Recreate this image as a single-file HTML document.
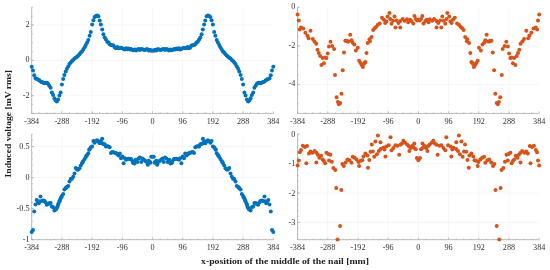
<!DOCTYPE html>
<html><head><meta charset="utf-8"><title>Induced voltage plots</title>
<style>html,body{margin:0;padding:0;background:#fff}body{width:550px;height:270px;overflow:hidden}</style></head>
<body>
<svg width="550" height="270" viewBox="0 0 550 270" style="display:block">
<rect width="550" height="270" fill="#fff"/>
<g font-family="'Liberation Serif', serif" font-size="8.2" fill="#333">
<line x1="61.90" y1="7.3" x2="61.90" y2="113.4" stroke="#f5f5f5" stroke-width="0.9"/>
<line x1="92.10" y1="7.3" x2="92.10" y2="113.4" stroke="#f5f5f5" stroke-width="0.9"/>
<line x1="122.30" y1="7.3" x2="122.30" y2="113.4" stroke="#f5f5f5" stroke-width="0.9"/>
<line x1="152.50" y1="7.3" x2="152.50" y2="113.4" stroke="#f5f5f5" stroke-width="0.9"/>
<line x1="182.70" y1="7.3" x2="182.70" y2="113.4" stroke="#f5f5f5" stroke-width="0.9"/>
<line x1="212.90" y1="7.3" x2="212.90" y2="113.4" stroke="#f5f5f5" stroke-width="0.9"/>
<line x1="243.10" y1="7.3" x2="243.10" y2="113.4" stroke="#f5f5f5" stroke-width="0.9"/>
<line x1="31.7" y1="95.72" x2="273.3" y2="95.72" stroke="#f5f5f5" stroke-width="0.9"/>
<line x1="31.7" y1="60.35" x2="273.3" y2="60.35" stroke="#f5f5f5" stroke-width="0.9"/>
<line x1="31.7" y1="24.98" x2="273.3" y2="24.98" stroke="#f5f5f5" stroke-width="0.9"/>
<path d="M31.7 7.3V113.4H273.3" fill="none" stroke="#a2a2a2" stroke-width="0.75"/>
<line x1="31.70" y1="113.4" x2="31.70" y2="111.2" stroke="#a2a2a2" stroke-width="0.6"/>
<line x1="39.25" y1="113.4" x2="39.25" y2="112.30000000000001" stroke="#a2a2a2" stroke-width="0.6"/>
<line x1="46.80" y1="113.4" x2="46.80" y2="112.30000000000001" stroke="#a2a2a2" stroke-width="0.6"/>
<line x1="54.35" y1="113.4" x2="54.35" y2="112.30000000000001" stroke="#a2a2a2" stroke-width="0.6"/>
<line x1="61.90" y1="113.4" x2="61.90" y2="111.2" stroke="#a2a2a2" stroke-width="0.6"/>
<line x1="69.45" y1="113.4" x2="69.45" y2="112.30000000000001" stroke="#a2a2a2" stroke-width="0.6"/>
<line x1="77.00" y1="113.4" x2="77.00" y2="112.30000000000001" stroke="#a2a2a2" stroke-width="0.6"/>
<line x1="84.55" y1="113.4" x2="84.55" y2="112.30000000000001" stroke="#a2a2a2" stroke-width="0.6"/>
<line x1="92.10" y1="113.4" x2="92.10" y2="111.2" stroke="#a2a2a2" stroke-width="0.6"/>
<line x1="99.65" y1="113.4" x2="99.65" y2="112.30000000000001" stroke="#a2a2a2" stroke-width="0.6"/>
<line x1="107.20" y1="113.4" x2="107.20" y2="112.30000000000001" stroke="#a2a2a2" stroke-width="0.6"/>
<line x1="114.75" y1="113.4" x2="114.75" y2="112.30000000000001" stroke="#a2a2a2" stroke-width="0.6"/>
<line x1="122.30" y1="113.4" x2="122.30" y2="111.2" stroke="#a2a2a2" stroke-width="0.6"/>
<line x1="129.85" y1="113.4" x2="129.85" y2="112.30000000000001" stroke="#a2a2a2" stroke-width="0.6"/>
<line x1="137.40" y1="113.4" x2="137.40" y2="112.30000000000001" stroke="#a2a2a2" stroke-width="0.6"/>
<line x1="144.95" y1="113.4" x2="144.95" y2="112.30000000000001" stroke="#a2a2a2" stroke-width="0.6"/>
<line x1="152.50" y1="113.4" x2="152.50" y2="111.2" stroke="#a2a2a2" stroke-width="0.6"/>
<line x1="160.05" y1="113.4" x2="160.05" y2="112.30000000000001" stroke="#a2a2a2" stroke-width="0.6"/>
<line x1="167.60" y1="113.4" x2="167.60" y2="112.30000000000001" stroke="#a2a2a2" stroke-width="0.6"/>
<line x1="175.15" y1="113.4" x2="175.15" y2="112.30000000000001" stroke="#a2a2a2" stroke-width="0.6"/>
<line x1="182.70" y1="113.4" x2="182.70" y2="111.2" stroke="#a2a2a2" stroke-width="0.6"/>
<line x1="190.25" y1="113.4" x2="190.25" y2="112.30000000000001" stroke="#a2a2a2" stroke-width="0.6"/>
<line x1="197.80" y1="113.4" x2="197.80" y2="112.30000000000001" stroke="#a2a2a2" stroke-width="0.6"/>
<line x1="205.35" y1="113.4" x2="205.35" y2="112.30000000000001" stroke="#a2a2a2" stroke-width="0.6"/>
<line x1="212.90" y1="113.4" x2="212.90" y2="111.2" stroke="#a2a2a2" stroke-width="0.6"/>
<line x1="220.45" y1="113.4" x2="220.45" y2="112.30000000000001" stroke="#a2a2a2" stroke-width="0.6"/>
<line x1="228.00" y1="113.4" x2="228.00" y2="112.30000000000001" stroke="#a2a2a2" stroke-width="0.6"/>
<line x1="235.55" y1="113.4" x2="235.55" y2="112.30000000000001" stroke="#a2a2a2" stroke-width="0.6"/>
<line x1="243.10" y1="113.4" x2="243.10" y2="111.2" stroke="#a2a2a2" stroke-width="0.6"/>
<line x1="250.65" y1="113.4" x2="250.65" y2="112.30000000000001" stroke="#a2a2a2" stroke-width="0.6"/>
<line x1="258.20" y1="113.4" x2="258.20" y2="112.30000000000001" stroke="#a2a2a2" stroke-width="0.6"/>
<line x1="265.75" y1="113.4" x2="265.75" y2="112.30000000000001" stroke="#a2a2a2" stroke-width="0.6"/>
<line x1="273.30" y1="113.4" x2="273.30" y2="111.2" stroke="#a2a2a2" stroke-width="0.6"/>
<line x1="31.7" y1="95.72" x2="33.9" y2="95.72" stroke="#a2a2a2" stroke-width="0.6"/>
<line x1="31.7" y1="60.35" x2="33.9" y2="60.35" stroke="#a2a2a2" stroke-width="0.6"/>
<line x1="31.7" y1="24.98" x2="33.9" y2="24.98" stroke="#a2a2a2" stroke-width="0.6"/>
<line x1="31.7" y1="113.40" x2="32.8" y2="113.40" stroke="#a2a2a2" stroke-width="0.6"/>
<line x1="31.7" y1="104.56" x2="32.8" y2="104.56" stroke="#a2a2a2" stroke-width="0.6"/>
<line x1="31.7" y1="95.72" x2="32.8" y2="95.72" stroke="#a2a2a2" stroke-width="0.6"/>
<line x1="31.7" y1="86.88" x2="32.8" y2="86.88" stroke="#a2a2a2" stroke-width="0.6"/>
<line x1="31.7" y1="78.03" x2="32.8" y2="78.03" stroke="#a2a2a2" stroke-width="0.6"/>
<line x1="31.7" y1="69.19" x2="32.8" y2="69.19" stroke="#a2a2a2" stroke-width="0.6"/>
<line x1="31.7" y1="60.35" x2="32.8" y2="60.35" stroke="#a2a2a2" stroke-width="0.6"/>
<line x1="31.7" y1="51.51" x2="32.8" y2="51.51" stroke="#a2a2a2" stroke-width="0.6"/>
<line x1="31.7" y1="42.67" x2="32.8" y2="42.67" stroke="#a2a2a2" stroke-width="0.6"/>
<line x1="31.7" y1="33.83" x2="32.8" y2="33.83" stroke="#a2a2a2" stroke-width="0.6"/>
<line x1="31.7" y1="24.98" x2="32.8" y2="24.98" stroke="#a2a2a2" stroke-width="0.6"/>
<line x1="31.7" y1="16.14" x2="32.8" y2="16.14" stroke="#a2a2a2" stroke-width="0.6"/>
<line x1="31.7" y1="7.30" x2="32.8" y2="7.30" stroke="#a2a2a2" stroke-width="0.6"/>
<text x="31.70" y="123.60" text-anchor="middle">-384</text>
<text x="61.90" y="123.60" text-anchor="middle">-288</text>
<text x="92.10" y="123.60" text-anchor="middle">-192</text>
<text x="122.30" y="123.60" text-anchor="middle">-96</text>
<text x="152.50" y="123.60" text-anchor="middle">0</text>
<text x="182.70" y="123.60" text-anchor="middle">96</text>
<text x="212.90" y="123.60" text-anchor="middle">192</text>
<text x="243.10" y="123.60" text-anchor="middle">288</text>
<text x="273.30" y="123.60" text-anchor="middle">384</text>
<text x="29.50" y="26.98" text-anchor="end">2</text>
<text x="29.50" y="62.35" text-anchor="end">0</text>
<text x="29.50" y="97.72" text-anchor="end">-2</text>
<line x1="327.80" y1="7.3" x2="327.80" y2="113.4" stroke="#f5f5f5" stroke-width="0.9"/>
<line x1="358.00" y1="7.3" x2="358.00" y2="113.4" stroke="#f5f5f5" stroke-width="0.9"/>
<line x1="388.20" y1="7.3" x2="388.20" y2="113.4" stroke="#f5f5f5" stroke-width="0.9"/>
<line x1="418.40" y1="7.3" x2="418.40" y2="113.4" stroke="#f5f5f5" stroke-width="0.9"/>
<line x1="448.60" y1="7.3" x2="448.60" y2="113.4" stroke="#f5f5f5" stroke-width="0.9"/>
<line x1="478.80" y1="7.3" x2="478.80" y2="113.4" stroke="#f5f5f5" stroke-width="0.9"/>
<line x1="509.00" y1="7.3" x2="509.00" y2="113.4" stroke="#f5f5f5" stroke-width="0.9"/>
<line x1="297.6" y1="84.46" x2="539.2" y2="84.46" stroke="#f5f5f5" stroke-width="0.9"/>
<line x1="297.6" y1="45.88" x2="539.2" y2="45.88" stroke="#f5f5f5" stroke-width="0.9"/>
<path d="M297.6 7.3V113.4H539.2" fill="none" stroke="#a2a2a2" stroke-width="0.75"/>
<line x1="297.60" y1="113.4" x2="297.60" y2="111.2" stroke="#a2a2a2" stroke-width="0.6"/>
<line x1="305.15" y1="113.4" x2="305.15" y2="112.30000000000001" stroke="#a2a2a2" stroke-width="0.6"/>
<line x1="312.70" y1="113.4" x2="312.70" y2="112.30000000000001" stroke="#a2a2a2" stroke-width="0.6"/>
<line x1="320.25" y1="113.4" x2="320.25" y2="112.30000000000001" stroke="#a2a2a2" stroke-width="0.6"/>
<line x1="327.80" y1="113.4" x2="327.80" y2="111.2" stroke="#a2a2a2" stroke-width="0.6"/>
<line x1="335.35" y1="113.4" x2="335.35" y2="112.30000000000001" stroke="#a2a2a2" stroke-width="0.6"/>
<line x1="342.90" y1="113.4" x2="342.90" y2="112.30000000000001" stroke="#a2a2a2" stroke-width="0.6"/>
<line x1="350.45" y1="113.4" x2="350.45" y2="112.30000000000001" stroke="#a2a2a2" stroke-width="0.6"/>
<line x1="358.00" y1="113.4" x2="358.00" y2="111.2" stroke="#a2a2a2" stroke-width="0.6"/>
<line x1="365.55" y1="113.4" x2="365.55" y2="112.30000000000001" stroke="#a2a2a2" stroke-width="0.6"/>
<line x1="373.10" y1="113.4" x2="373.10" y2="112.30000000000001" stroke="#a2a2a2" stroke-width="0.6"/>
<line x1="380.65" y1="113.4" x2="380.65" y2="112.30000000000001" stroke="#a2a2a2" stroke-width="0.6"/>
<line x1="388.20" y1="113.4" x2="388.20" y2="111.2" stroke="#a2a2a2" stroke-width="0.6"/>
<line x1="395.75" y1="113.4" x2="395.75" y2="112.30000000000001" stroke="#a2a2a2" stroke-width="0.6"/>
<line x1="403.30" y1="113.4" x2="403.30" y2="112.30000000000001" stroke="#a2a2a2" stroke-width="0.6"/>
<line x1="410.85" y1="113.4" x2="410.85" y2="112.30000000000001" stroke="#a2a2a2" stroke-width="0.6"/>
<line x1="418.40" y1="113.4" x2="418.40" y2="111.2" stroke="#a2a2a2" stroke-width="0.6"/>
<line x1="425.95" y1="113.4" x2="425.95" y2="112.30000000000001" stroke="#a2a2a2" stroke-width="0.6"/>
<line x1="433.50" y1="113.4" x2="433.50" y2="112.30000000000001" stroke="#a2a2a2" stroke-width="0.6"/>
<line x1="441.05" y1="113.4" x2="441.05" y2="112.30000000000001" stroke="#a2a2a2" stroke-width="0.6"/>
<line x1="448.60" y1="113.4" x2="448.60" y2="111.2" stroke="#a2a2a2" stroke-width="0.6"/>
<line x1="456.15" y1="113.4" x2="456.15" y2="112.30000000000001" stroke="#a2a2a2" stroke-width="0.6"/>
<line x1="463.70" y1="113.4" x2="463.70" y2="112.30000000000001" stroke="#a2a2a2" stroke-width="0.6"/>
<line x1="471.25" y1="113.4" x2="471.25" y2="112.30000000000001" stroke="#a2a2a2" stroke-width="0.6"/>
<line x1="478.80" y1="113.4" x2="478.80" y2="111.2" stroke="#a2a2a2" stroke-width="0.6"/>
<line x1="486.35" y1="113.4" x2="486.35" y2="112.30000000000001" stroke="#a2a2a2" stroke-width="0.6"/>
<line x1="493.90" y1="113.4" x2="493.90" y2="112.30000000000001" stroke="#a2a2a2" stroke-width="0.6"/>
<line x1="501.45" y1="113.4" x2="501.45" y2="112.30000000000001" stroke="#a2a2a2" stroke-width="0.6"/>
<line x1="509.00" y1="113.4" x2="509.00" y2="111.2" stroke="#a2a2a2" stroke-width="0.6"/>
<line x1="516.55" y1="113.4" x2="516.55" y2="112.30000000000001" stroke="#a2a2a2" stroke-width="0.6"/>
<line x1="524.10" y1="113.4" x2="524.10" y2="112.30000000000001" stroke="#a2a2a2" stroke-width="0.6"/>
<line x1="531.65" y1="113.4" x2="531.65" y2="112.30000000000001" stroke="#a2a2a2" stroke-width="0.6"/>
<line x1="539.20" y1="113.4" x2="539.20" y2="111.2" stroke="#a2a2a2" stroke-width="0.6"/>
<line x1="297.6" y1="84.46" x2="299.8" y2="84.46" stroke="#a2a2a2" stroke-width="0.6"/>
<line x1="297.6" y1="45.88" x2="299.8" y2="45.88" stroke="#a2a2a2" stroke-width="0.6"/>
<line x1="297.6" y1="7.30" x2="299.8" y2="7.30" stroke="#a2a2a2" stroke-width="0.6"/>
<line x1="297.6" y1="7.30" x2="298.70000000000005" y2="7.30" stroke="#a2a2a2" stroke-width="0.6"/>
<line x1="297.6" y1="16.95" x2="298.70000000000005" y2="16.95" stroke="#a2a2a2" stroke-width="0.6"/>
<line x1="297.6" y1="26.59" x2="298.70000000000005" y2="26.59" stroke="#a2a2a2" stroke-width="0.6"/>
<line x1="297.6" y1="36.24" x2="298.70000000000005" y2="36.24" stroke="#a2a2a2" stroke-width="0.6"/>
<line x1="297.6" y1="45.88" x2="298.70000000000005" y2="45.88" stroke="#a2a2a2" stroke-width="0.6"/>
<line x1="297.6" y1="55.53" x2="298.70000000000005" y2="55.53" stroke="#a2a2a2" stroke-width="0.6"/>
<line x1="297.6" y1="65.17" x2="298.70000000000005" y2="65.17" stroke="#a2a2a2" stroke-width="0.6"/>
<line x1="297.6" y1="74.82" x2="298.70000000000005" y2="74.82" stroke="#a2a2a2" stroke-width="0.6"/>
<line x1="297.6" y1="84.46" x2="298.70000000000005" y2="84.46" stroke="#a2a2a2" stroke-width="0.6"/>
<line x1="297.6" y1="94.11" x2="298.70000000000005" y2="94.11" stroke="#a2a2a2" stroke-width="0.6"/>
<line x1="297.6" y1="103.75" x2="298.70000000000005" y2="103.75" stroke="#a2a2a2" stroke-width="0.6"/>
<line x1="297.6" y1="113.40" x2="298.70000000000005" y2="113.40" stroke="#a2a2a2" stroke-width="0.6"/>
<text x="297.60" y="123.60" text-anchor="middle">-384</text>
<text x="327.80" y="123.60" text-anchor="middle">-288</text>
<text x="358.00" y="123.60" text-anchor="middle">-192</text>
<text x="388.20" y="123.60" text-anchor="middle">-96</text>
<text x="418.40" y="123.60" text-anchor="middle">0</text>
<text x="448.60" y="123.60" text-anchor="middle">96</text>
<text x="478.80" y="123.60" text-anchor="middle">192</text>
<text x="509.00" y="123.60" text-anchor="middle">288</text>
<text x="539.20" y="123.60" text-anchor="middle">384</text>
<text x="295.40" y="9.30" text-anchor="end">0</text>
<text x="295.40" y="47.88" text-anchor="end">-2</text>
<text x="295.40" y="86.46" text-anchor="end">-4</text>
<line x1="61.90" y1="134.1" x2="61.90" y2="239.7" stroke="#f5f5f5" stroke-width="0.9"/>
<line x1="92.10" y1="134.1" x2="92.10" y2="239.7" stroke="#f5f5f5" stroke-width="0.9"/>
<line x1="122.30" y1="134.1" x2="122.30" y2="239.7" stroke="#f5f5f5" stroke-width="0.9"/>
<line x1="152.50" y1="134.1" x2="152.50" y2="239.7" stroke="#f5f5f5" stroke-width="0.9"/>
<line x1="182.70" y1="134.1" x2="182.70" y2="239.7" stroke="#f5f5f5" stroke-width="0.9"/>
<line x1="212.90" y1="134.1" x2="212.90" y2="239.7" stroke="#f5f5f5" stroke-width="0.9"/>
<line x1="243.10" y1="134.1" x2="243.10" y2="239.7" stroke="#f5f5f5" stroke-width="0.9"/>
<line x1="31.7" y1="208.64" x2="273.3" y2="208.64" stroke="#f5f5f5" stroke-width="0.9"/>
<line x1="31.7" y1="177.58" x2="273.3" y2="177.58" stroke="#f5f5f5" stroke-width="0.9"/>
<line x1="31.7" y1="146.52" x2="273.3" y2="146.52" stroke="#f5f5f5" stroke-width="0.9"/>
<path d="M31.7 134.1V239.7H273.3" fill="none" stroke="#a2a2a2" stroke-width="0.75"/>
<line x1="31.70" y1="239.7" x2="31.70" y2="237.5" stroke="#a2a2a2" stroke-width="0.6"/>
<line x1="39.25" y1="239.7" x2="39.25" y2="238.6" stroke="#a2a2a2" stroke-width="0.6"/>
<line x1="46.80" y1="239.7" x2="46.80" y2="238.6" stroke="#a2a2a2" stroke-width="0.6"/>
<line x1="54.35" y1="239.7" x2="54.35" y2="238.6" stroke="#a2a2a2" stroke-width="0.6"/>
<line x1="61.90" y1="239.7" x2="61.90" y2="237.5" stroke="#a2a2a2" stroke-width="0.6"/>
<line x1="69.45" y1="239.7" x2="69.45" y2="238.6" stroke="#a2a2a2" stroke-width="0.6"/>
<line x1="77.00" y1="239.7" x2="77.00" y2="238.6" stroke="#a2a2a2" stroke-width="0.6"/>
<line x1="84.55" y1="239.7" x2="84.55" y2="238.6" stroke="#a2a2a2" stroke-width="0.6"/>
<line x1="92.10" y1="239.7" x2="92.10" y2="237.5" stroke="#a2a2a2" stroke-width="0.6"/>
<line x1="99.65" y1="239.7" x2="99.65" y2="238.6" stroke="#a2a2a2" stroke-width="0.6"/>
<line x1="107.20" y1="239.7" x2="107.20" y2="238.6" stroke="#a2a2a2" stroke-width="0.6"/>
<line x1="114.75" y1="239.7" x2="114.75" y2="238.6" stroke="#a2a2a2" stroke-width="0.6"/>
<line x1="122.30" y1="239.7" x2="122.30" y2="237.5" stroke="#a2a2a2" stroke-width="0.6"/>
<line x1="129.85" y1="239.7" x2="129.85" y2="238.6" stroke="#a2a2a2" stroke-width="0.6"/>
<line x1="137.40" y1="239.7" x2="137.40" y2="238.6" stroke="#a2a2a2" stroke-width="0.6"/>
<line x1="144.95" y1="239.7" x2="144.95" y2="238.6" stroke="#a2a2a2" stroke-width="0.6"/>
<line x1="152.50" y1="239.7" x2="152.50" y2="237.5" stroke="#a2a2a2" stroke-width="0.6"/>
<line x1="160.05" y1="239.7" x2="160.05" y2="238.6" stroke="#a2a2a2" stroke-width="0.6"/>
<line x1="167.60" y1="239.7" x2="167.60" y2="238.6" stroke="#a2a2a2" stroke-width="0.6"/>
<line x1="175.15" y1="239.7" x2="175.15" y2="238.6" stroke="#a2a2a2" stroke-width="0.6"/>
<line x1="182.70" y1="239.7" x2="182.70" y2="237.5" stroke="#a2a2a2" stroke-width="0.6"/>
<line x1="190.25" y1="239.7" x2="190.25" y2="238.6" stroke="#a2a2a2" stroke-width="0.6"/>
<line x1="197.80" y1="239.7" x2="197.80" y2="238.6" stroke="#a2a2a2" stroke-width="0.6"/>
<line x1="205.35" y1="239.7" x2="205.35" y2="238.6" stroke="#a2a2a2" stroke-width="0.6"/>
<line x1="212.90" y1="239.7" x2="212.90" y2="237.5" stroke="#a2a2a2" stroke-width="0.6"/>
<line x1="220.45" y1="239.7" x2="220.45" y2="238.6" stroke="#a2a2a2" stroke-width="0.6"/>
<line x1="228.00" y1="239.7" x2="228.00" y2="238.6" stroke="#a2a2a2" stroke-width="0.6"/>
<line x1="235.55" y1="239.7" x2="235.55" y2="238.6" stroke="#a2a2a2" stroke-width="0.6"/>
<line x1="243.10" y1="239.7" x2="243.10" y2="237.5" stroke="#a2a2a2" stroke-width="0.6"/>
<line x1="250.65" y1="239.7" x2="250.65" y2="238.6" stroke="#a2a2a2" stroke-width="0.6"/>
<line x1="258.20" y1="239.7" x2="258.20" y2="238.6" stroke="#a2a2a2" stroke-width="0.6"/>
<line x1="265.75" y1="239.7" x2="265.75" y2="238.6" stroke="#a2a2a2" stroke-width="0.6"/>
<line x1="273.30" y1="239.7" x2="273.30" y2="237.5" stroke="#a2a2a2" stroke-width="0.6"/>
<line x1="31.7" y1="239.70" x2="33.9" y2="239.70" stroke="#a2a2a2" stroke-width="0.6"/>
<line x1="31.7" y1="208.64" x2="33.9" y2="208.64" stroke="#a2a2a2" stroke-width="0.6"/>
<line x1="31.7" y1="177.58" x2="33.9" y2="177.58" stroke="#a2a2a2" stroke-width="0.6"/>
<line x1="31.7" y1="146.52" x2="33.9" y2="146.52" stroke="#a2a2a2" stroke-width="0.6"/>
<line x1="31.7" y1="239.70" x2="32.8" y2="239.70" stroke="#a2a2a2" stroke-width="0.6"/>
<line x1="31.7" y1="233.49" x2="32.8" y2="233.49" stroke="#a2a2a2" stroke-width="0.6"/>
<line x1="31.7" y1="227.28" x2="32.8" y2="227.28" stroke="#a2a2a2" stroke-width="0.6"/>
<line x1="31.7" y1="221.06" x2="32.8" y2="221.06" stroke="#a2a2a2" stroke-width="0.6"/>
<line x1="31.7" y1="214.85" x2="32.8" y2="214.85" stroke="#a2a2a2" stroke-width="0.6"/>
<line x1="31.7" y1="208.64" x2="32.8" y2="208.64" stroke="#a2a2a2" stroke-width="0.6"/>
<line x1="31.7" y1="202.43" x2="32.8" y2="202.43" stroke="#a2a2a2" stroke-width="0.6"/>
<line x1="31.7" y1="196.22" x2="32.8" y2="196.22" stroke="#a2a2a2" stroke-width="0.6"/>
<line x1="31.7" y1="190.01" x2="32.8" y2="190.01" stroke="#a2a2a2" stroke-width="0.6"/>
<line x1="31.7" y1="183.79" x2="32.8" y2="183.79" stroke="#a2a2a2" stroke-width="0.6"/>
<line x1="31.7" y1="177.58" x2="32.8" y2="177.58" stroke="#a2a2a2" stroke-width="0.6"/>
<line x1="31.7" y1="171.37" x2="32.8" y2="171.37" stroke="#a2a2a2" stroke-width="0.6"/>
<line x1="31.7" y1="165.16" x2="32.8" y2="165.16" stroke="#a2a2a2" stroke-width="0.6"/>
<line x1="31.7" y1="158.95" x2="32.8" y2="158.95" stroke="#a2a2a2" stroke-width="0.6"/>
<line x1="31.7" y1="152.74" x2="32.8" y2="152.74" stroke="#a2a2a2" stroke-width="0.6"/>
<line x1="31.7" y1="146.52" x2="32.8" y2="146.52" stroke="#a2a2a2" stroke-width="0.6"/>
<line x1="31.7" y1="140.31" x2="32.8" y2="140.31" stroke="#a2a2a2" stroke-width="0.6"/>
<line x1="31.7" y1="134.10" x2="32.8" y2="134.10" stroke="#a2a2a2" stroke-width="0.6"/>
<text x="31.70" y="249.90" text-anchor="middle">-384</text>
<text x="61.90" y="249.90" text-anchor="middle">-288</text>
<text x="92.10" y="249.90" text-anchor="middle">-192</text>
<text x="122.30" y="249.90" text-anchor="middle">-96</text>
<text x="152.50" y="249.90" text-anchor="middle">0</text>
<text x="182.70" y="249.90" text-anchor="middle">96</text>
<text x="212.90" y="249.90" text-anchor="middle">192</text>
<text x="243.10" y="249.90" text-anchor="middle">288</text>
<text x="273.30" y="249.90" text-anchor="middle">384</text>
<text x="29.50" y="149.22" text-anchor="end">0.5</text>
<text x="29.50" y="180.28" text-anchor="end">0</text>
<text x="29.50" y="211.34" text-anchor="end">-0.5</text>
<text x="29.50" y="242.40" text-anchor="end">-1</text>
<line x1="327.80" y1="134.1" x2="327.80" y2="239.7" stroke="#f5f5f5" stroke-width="0.9"/>
<line x1="358.00" y1="134.1" x2="358.00" y2="239.7" stroke="#f5f5f5" stroke-width="0.9"/>
<line x1="388.20" y1="134.1" x2="388.20" y2="239.7" stroke="#f5f5f5" stroke-width="0.9"/>
<line x1="418.40" y1="134.1" x2="418.40" y2="239.7" stroke="#f5f5f5" stroke-width="0.9"/>
<line x1="448.60" y1="134.1" x2="448.60" y2="239.7" stroke="#f5f5f5" stroke-width="0.9"/>
<line x1="478.80" y1="134.1" x2="478.80" y2="239.7" stroke="#f5f5f5" stroke-width="0.9"/>
<line x1="509.00" y1="134.1" x2="509.00" y2="239.7" stroke="#f5f5f5" stroke-width="0.9"/>
<line x1="297.6" y1="222.47" x2="539.2" y2="222.47" stroke="#f5f5f5" stroke-width="0.9"/>
<line x1="297.6" y1="193.01" x2="539.2" y2="193.01" stroke="#f5f5f5" stroke-width="0.9"/>
<line x1="297.6" y1="163.56" x2="539.2" y2="163.56" stroke="#f5f5f5" stroke-width="0.9"/>
<path d="M297.6 134.1V239.7H539.2" fill="none" stroke="#a2a2a2" stroke-width="0.75"/>
<line x1="297.60" y1="239.7" x2="297.60" y2="237.5" stroke="#a2a2a2" stroke-width="0.6"/>
<line x1="305.15" y1="239.7" x2="305.15" y2="238.6" stroke="#a2a2a2" stroke-width="0.6"/>
<line x1="312.70" y1="239.7" x2="312.70" y2="238.6" stroke="#a2a2a2" stroke-width="0.6"/>
<line x1="320.25" y1="239.7" x2="320.25" y2="238.6" stroke="#a2a2a2" stroke-width="0.6"/>
<line x1="327.80" y1="239.7" x2="327.80" y2="237.5" stroke="#a2a2a2" stroke-width="0.6"/>
<line x1="335.35" y1="239.7" x2="335.35" y2="238.6" stroke="#a2a2a2" stroke-width="0.6"/>
<line x1="342.90" y1="239.7" x2="342.90" y2="238.6" stroke="#a2a2a2" stroke-width="0.6"/>
<line x1="350.45" y1="239.7" x2="350.45" y2="238.6" stroke="#a2a2a2" stroke-width="0.6"/>
<line x1="358.00" y1="239.7" x2="358.00" y2="237.5" stroke="#a2a2a2" stroke-width="0.6"/>
<line x1="365.55" y1="239.7" x2="365.55" y2="238.6" stroke="#a2a2a2" stroke-width="0.6"/>
<line x1="373.10" y1="239.7" x2="373.10" y2="238.6" stroke="#a2a2a2" stroke-width="0.6"/>
<line x1="380.65" y1="239.7" x2="380.65" y2="238.6" stroke="#a2a2a2" stroke-width="0.6"/>
<line x1="388.20" y1="239.7" x2="388.20" y2="237.5" stroke="#a2a2a2" stroke-width="0.6"/>
<line x1="395.75" y1="239.7" x2="395.75" y2="238.6" stroke="#a2a2a2" stroke-width="0.6"/>
<line x1="403.30" y1="239.7" x2="403.30" y2="238.6" stroke="#a2a2a2" stroke-width="0.6"/>
<line x1="410.85" y1="239.7" x2="410.85" y2="238.6" stroke="#a2a2a2" stroke-width="0.6"/>
<line x1="418.40" y1="239.7" x2="418.40" y2="237.5" stroke="#a2a2a2" stroke-width="0.6"/>
<line x1="425.95" y1="239.7" x2="425.95" y2="238.6" stroke="#a2a2a2" stroke-width="0.6"/>
<line x1="433.50" y1="239.7" x2="433.50" y2="238.6" stroke="#a2a2a2" stroke-width="0.6"/>
<line x1="441.05" y1="239.7" x2="441.05" y2="238.6" stroke="#a2a2a2" stroke-width="0.6"/>
<line x1="448.60" y1="239.7" x2="448.60" y2="237.5" stroke="#a2a2a2" stroke-width="0.6"/>
<line x1="456.15" y1="239.7" x2="456.15" y2="238.6" stroke="#a2a2a2" stroke-width="0.6"/>
<line x1="463.70" y1="239.7" x2="463.70" y2="238.6" stroke="#a2a2a2" stroke-width="0.6"/>
<line x1="471.25" y1="239.7" x2="471.25" y2="238.6" stroke="#a2a2a2" stroke-width="0.6"/>
<line x1="478.80" y1="239.7" x2="478.80" y2="237.5" stroke="#a2a2a2" stroke-width="0.6"/>
<line x1="486.35" y1="239.7" x2="486.35" y2="238.6" stroke="#a2a2a2" stroke-width="0.6"/>
<line x1="493.90" y1="239.7" x2="493.90" y2="238.6" stroke="#a2a2a2" stroke-width="0.6"/>
<line x1="501.45" y1="239.7" x2="501.45" y2="238.6" stroke="#a2a2a2" stroke-width="0.6"/>
<line x1="509.00" y1="239.7" x2="509.00" y2="237.5" stroke="#a2a2a2" stroke-width="0.6"/>
<line x1="516.55" y1="239.7" x2="516.55" y2="238.6" stroke="#a2a2a2" stroke-width="0.6"/>
<line x1="524.10" y1="239.7" x2="524.10" y2="238.6" stroke="#a2a2a2" stroke-width="0.6"/>
<line x1="531.65" y1="239.7" x2="531.65" y2="238.6" stroke="#a2a2a2" stroke-width="0.6"/>
<line x1="539.20" y1="239.7" x2="539.20" y2="237.5" stroke="#a2a2a2" stroke-width="0.6"/>
<line x1="297.6" y1="222.47" x2="299.8" y2="222.47" stroke="#a2a2a2" stroke-width="0.6"/>
<line x1="297.6" y1="193.01" x2="299.8" y2="193.01" stroke="#a2a2a2" stroke-width="0.6"/>
<line x1="297.6" y1="163.56" x2="299.8" y2="163.56" stroke="#a2a2a2" stroke-width="0.6"/>
<line x1="297.6" y1="134.10" x2="299.8" y2="134.10" stroke="#a2a2a2" stroke-width="0.6"/>
<line x1="297.6" y1="134.10" x2="298.70000000000005" y2="134.10" stroke="#a2a2a2" stroke-width="0.6"/>
<line x1="297.6" y1="139.99" x2="298.70000000000005" y2="139.99" stroke="#a2a2a2" stroke-width="0.6"/>
<line x1="297.6" y1="145.88" x2="298.70000000000005" y2="145.88" stroke="#a2a2a2" stroke-width="0.6"/>
<line x1="297.6" y1="151.77" x2="298.70000000000005" y2="151.77" stroke="#a2a2a2" stroke-width="0.6"/>
<line x1="297.6" y1="157.66" x2="298.70000000000005" y2="157.66" stroke="#a2a2a2" stroke-width="0.6"/>
<line x1="297.6" y1="163.56" x2="298.70000000000005" y2="163.56" stroke="#a2a2a2" stroke-width="0.6"/>
<line x1="297.6" y1="169.45" x2="298.70000000000005" y2="169.45" stroke="#a2a2a2" stroke-width="0.6"/>
<line x1="297.6" y1="175.34" x2="298.70000000000005" y2="175.34" stroke="#a2a2a2" stroke-width="0.6"/>
<line x1="297.6" y1="181.23" x2="298.70000000000005" y2="181.23" stroke="#a2a2a2" stroke-width="0.6"/>
<line x1="297.6" y1="187.12" x2="298.70000000000005" y2="187.12" stroke="#a2a2a2" stroke-width="0.6"/>
<line x1="297.6" y1="193.01" x2="298.70000000000005" y2="193.01" stroke="#a2a2a2" stroke-width="0.6"/>
<line x1="297.6" y1="198.90" x2="298.70000000000005" y2="198.90" stroke="#a2a2a2" stroke-width="0.6"/>
<line x1="297.6" y1="204.79" x2="298.70000000000005" y2="204.79" stroke="#a2a2a2" stroke-width="0.6"/>
<line x1="297.6" y1="210.69" x2="298.70000000000005" y2="210.69" stroke="#a2a2a2" stroke-width="0.6"/>
<line x1="297.6" y1="216.58" x2="298.70000000000005" y2="216.58" stroke="#a2a2a2" stroke-width="0.6"/>
<line x1="297.6" y1="222.47" x2="298.70000000000005" y2="222.47" stroke="#a2a2a2" stroke-width="0.6"/>
<line x1="297.6" y1="228.36" x2="298.70000000000005" y2="228.36" stroke="#a2a2a2" stroke-width="0.6"/>
<line x1="297.6" y1="234.25" x2="298.70000000000005" y2="234.25" stroke="#a2a2a2" stroke-width="0.6"/>
<text x="297.60" y="249.90" text-anchor="middle">-384</text>
<text x="327.80" y="249.90" text-anchor="middle">-288</text>
<text x="358.00" y="249.90" text-anchor="middle">-192</text>
<text x="388.20" y="249.90" text-anchor="middle">-96</text>
<text x="418.40" y="249.90" text-anchor="middle">0</text>
<text x="448.60" y="249.90" text-anchor="middle">96</text>
<text x="478.80" y="249.90" text-anchor="middle">192</text>
<text x="509.00" y="249.90" text-anchor="middle">288</text>
<text x="539.20" y="249.90" text-anchor="middle">384</text>
<text x="295.40" y="136.80" text-anchor="end">0</text>
<text x="295.40" y="166.26" text-anchor="end">-1</text>
<text x="295.40" y="195.71" text-anchor="end">-2</text>
<text x="295.40" y="225.17" text-anchor="end">-3</text>
</g>
<g fill="#0072BD">
<circle cx="31.7" cy="66.8" r="2.0"/>
<circle cx="33.0" cy="70.5" r="2.0"/>
<circle cx="34.2" cy="75.3" r="2.0"/>
<circle cx="35.5" cy="78.3" r="2.0"/>
<circle cx="36.7" cy="79.1" r="2.0"/>
<circle cx="38.0" cy="79.4" r="2.0"/>
<circle cx="39.3" cy="80.2" r="2.0"/>
<circle cx="40.5" cy="81.6" r="2.0"/>
<circle cx="41.8" cy="81.9" r="2.0"/>
<circle cx="43.0" cy="82.4" r="2.0"/>
<circle cx="44.3" cy="83.2" r="2.0"/>
<circle cx="45.5" cy="82.7" r="2.0"/>
<circle cx="46.8" cy="82.7" r="2.0"/>
<circle cx="48.1" cy="83.7" r="2.0"/>
<circle cx="49.3" cy="85.7" r="2.0"/>
<circle cx="50.6" cy="87.7" r="2.0"/>
<circle cx="51.8" cy="92.5" r="2.0"/>
<circle cx="53.1" cy="95.0" r="2.0"/>
<circle cx="54.4" cy="98.3" r="2.0"/>
<circle cx="55.6" cy="100.4" r="2.0"/>
<circle cx="56.9" cy="101.4" r="2.0"/>
<circle cx="58.1" cy="99.4" r="2.0"/>
<circle cx="59.4" cy="95.6" r="2.0"/>
<circle cx="60.6" cy="92.4" r="2.0"/>
<circle cx="61.9" cy="84.5" r="2.0"/>
<circle cx="63.2" cy="78.9" r="2.0"/>
<circle cx="64.4" cy="75.0" r="2.0"/>
<circle cx="65.7" cy="71.4" r="2.0"/>
<circle cx="66.9" cy="68.8" r="2.0"/>
<circle cx="68.2" cy="66.4" r="2.0"/>
<circle cx="69.5" cy="64.1" r="2.0"/>
<circle cx="70.7" cy="62.5" r="2.0"/>
<circle cx="72.0" cy="61.0" r="2.0"/>
<circle cx="73.2" cy="60.0" r="2.0"/>
<circle cx="74.5" cy="58.6" r="2.0"/>
<circle cx="75.7" cy="57.8" r="2.0"/>
<circle cx="77.0" cy="56.8" r="2.0"/>
<circle cx="78.3" cy="55.5" r="2.0"/>
<circle cx="79.5" cy="54.2" r="2.0"/>
<circle cx="80.8" cy="52.5" r="2.0"/>
<circle cx="82.0" cy="51.4" r="2.0"/>
<circle cx="83.3" cy="49.5" r="2.0"/>
<circle cx="84.6" cy="47.3" r="2.0"/>
<circle cx="85.8" cy="44.9" r="2.0"/>
<circle cx="87.1" cy="42.6" r="2.0"/>
<circle cx="88.3" cy="39.9" r="2.0"/>
<circle cx="89.6" cy="35.8" r="2.0"/>
<circle cx="90.8" cy="31.9" r="2.0"/>
<circle cx="92.1" cy="24.5" r="2.0"/>
<circle cx="93.4" cy="20.2" r="2.0"/>
<circle cx="94.6" cy="16.9" r="2.0"/>
<circle cx="95.9" cy="16.1" r="2.0"/>
<circle cx="97.1" cy="15.6" r="2.0"/>
<circle cx="98.4" cy="16.3" r="2.0"/>
<circle cx="99.7" cy="20.4" r="2.0"/>
<circle cx="100.9" cy="24.4" r="2.0"/>
<circle cx="102.2" cy="29.6" r="2.0"/>
<circle cx="103.4" cy="34.2" r="2.0"/>
<circle cx="104.7" cy="37.6" r="2.0"/>
<circle cx="105.9" cy="39.6" r="2.0"/>
<circle cx="107.2" cy="41.7" r="2.0"/>
<circle cx="108.5" cy="42.6" r="2.0"/>
<circle cx="109.7" cy="44.2" r="2.0"/>
<circle cx="111.0" cy="45.1" r="2.0"/>
<circle cx="112.2" cy="45.3" r="2.0"/>
<circle cx="113.5" cy="45.6" r="2.0"/>
<circle cx="114.8" cy="47.5" r="2.0"/>
<circle cx="116.0" cy="48.2" r="2.0"/>
<circle cx="117.3" cy="47.0" r="2.0"/>
<circle cx="118.5" cy="48.3" r="2.0"/>
<circle cx="119.8" cy="47.9" r="2.0"/>
<circle cx="121.0" cy="47.7" r="2.0"/>
<circle cx="122.3" cy="48.2" r="2.0"/>
<circle cx="123.6" cy="49.1" r="2.0"/>
<circle cx="124.8" cy="49.4" r="2.0"/>
<circle cx="126.1" cy="48.2" r="2.0"/>
<circle cx="127.3" cy="49.2" r="2.0"/>
<circle cx="128.6" cy="48.4" r="2.0"/>
<circle cx="129.9" cy="49.6" r="2.0"/>
<circle cx="131.1" cy="49.0" r="2.0"/>
<circle cx="132.4" cy="50.0" r="2.0"/>
<circle cx="133.6" cy="50.3" r="2.0"/>
<circle cx="134.9" cy="49.6" r="2.0"/>
<circle cx="136.1" cy="50.5" r="2.0"/>
<circle cx="137.4" cy="49.4" r="2.0"/>
<circle cx="138.7" cy="49.1" r="2.0"/>
<circle cx="139.9" cy="49.9" r="2.0"/>
<circle cx="141.2" cy="49.0" r="2.0"/>
<circle cx="142.4" cy="49.3" r="2.0"/>
<circle cx="143.7" cy="49.7" r="2.0"/>
<circle cx="145.0" cy="50.0" r="2.0"/>
<circle cx="146.2" cy="49.3" r="2.0"/>
<circle cx="147.5" cy="49.2" r="2.0"/>
<circle cx="148.7" cy="50.5" r="2.0"/>
<circle cx="150.0" cy="49.7" r="2.0"/>
<circle cx="151.2" cy="50.7" r="2.0"/>
<circle cx="152.5" cy="50.6" r="2.0"/>
<circle cx="273.3" cy="66.8" r="2.0"/>
<circle cx="272.0" cy="70.5" r="2.0"/>
<circle cx="270.8" cy="75.3" r="2.0"/>
<circle cx="269.5" cy="78.3" r="2.0"/>
<circle cx="268.3" cy="79.1" r="2.0"/>
<circle cx="267.0" cy="79.4" r="2.0"/>
<circle cx="265.8" cy="80.2" r="2.0"/>
<circle cx="264.5" cy="81.6" r="2.0"/>
<circle cx="263.2" cy="81.9" r="2.0"/>
<circle cx="262.0" cy="82.4" r="2.0"/>
<circle cx="260.7" cy="83.2" r="2.0"/>
<circle cx="259.5" cy="82.7" r="2.0"/>
<circle cx="258.2" cy="82.7" r="2.0"/>
<circle cx="256.9" cy="83.7" r="2.0"/>
<circle cx="255.7" cy="85.7" r="2.0"/>
<circle cx="254.4" cy="87.7" r="2.0"/>
<circle cx="253.2" cy="92.5" r="2.0"/>
<circle cx="251.9" cy="95.0" r="2.0"/>
<circle cx="250.6" cy="98.3" r="2.0"/>
<circle cx="249.4" cy="100.4" r="2.0"/>
<circle cx="248.1" cy="101.4" r="2.0"/>
<circle cx="246.9" cy="99.4" r="2.0"/>
<circle cx="245.6" cy="95.6" r="2.0"/>
<circle cx="244.4" cy="92.4" r="2.0"/>
<circle cx="243.1" cy="84.5" r="2.0"/>
<circle cx="241.8" cy="78.9" r="2.0"/>
<circle cx="240.6" cy="75.0" r="2.0"/>
<circle cx="239.3" cy="71.4" r="2.0"/>
<circle cx="238.1" cy="68.8" r="2.0"/>
<circle cx="236.8" cy="66.4" r="2.0"/>
<circle cx="235.5" cy="64.1" r="2.0"/>
<circle cx="234.3" cy="62.5" r="2.0"/>
<circle cx="233.0" cy="61.0" r="2.0"/>
<circle cx="231.8" cy="60.0" r="2.0"/>
<circle cx="230.5" cy="58.6" r="2.0"/>
<circle cx="229.3" cy="57.8" r="2.0"/>
<circle cx="228.0" cy="56.8" r="2.0"/>
<circle cx="226.7" cy="55.5" r="2.0"/>
<circle cx="225.5" cy="54.2" r="2.0"/>
<circle cx="224.2" cy="52.5" r="2.0"/>
<circle cx="223.0" cy="51.4" r="2.0"/>
<circle cx="221.7" cy="49.5" r="2.0"/>
<circle cx="220.4" cy="47.3" r="2.0"/>
<circle cx="219.2" cy="44.9" r="2.0"/>
<circle cx="217.9" cy="42.6" r="2.0"/>
<circle cx="216.7" cy="39.9" r="2.0"/>
<circle cx="215.4" cy="35.8" r="2.0"/>
<circle cx="214.2" cy="31.9" r="2.0"/>
<circle cx="212.9" cy="24.5" r="2.0"/>
<circle cx="211.6" cy="20.2" r="2.0"/>
<circle cx="210.4" cy="16.9" r="2.0"/>
<circle cx="209.1" cy="16.1" r="2.0"/>
<circle cx="207.9" cy="15.6" r="2.0"/>
<circle cx="206.6" cy="16.3" r="2.0"/>
<circle cx="205.3" cy="20.4" r="2.0"/>
<circle cx="204.1" cy="24.4" r="2.0"/>
<circle cx="202.8" cy="29.6" r="2.0"/>
<circle cx="201.6" cy="34.2" r="2.0"/>
<circle cx="200.3" cy="37.6" r="2.0"/>
<circle cx="199.1" cy="39.6" r="2.0"/>
<circle cx="197.8" cy="41.7" r="2.0"/>
<circle cx="196.5" cy="42.6" r="2.0"/>
<circle cx="195.3" cy="44.2" r="2.0"/>
<circle cx="194.0" cy="45.1" r="2.0"/>
<circle cx="192.8" cy="45.3" r="2.0"/>
<circle cx="191.5" cy="45.6" r="2.0"/>
<circle cx="190.2" cy="47.5" r="2.0"/>
<circle cx="189.0" cy="48.2" r="2.0"/>
<circle cx="187.7" cy="47.0" r="2.0"/>
<circle cx="186.5" cy="48.3" r="2.0"/>
<circle cx="185.2" cy="47.9" r="2.0"/>
<circle cx="184.0" cy="47.7" r="2.0"/>
<circle cx="182.7" cy="48.2" r="2.0"/>
<circle cx="181.4" cy="49.1" r="2.0"/>
<circle cx="180.2" cy="49.4" r="2.0"/>
<circle cx="178.9" cy="48.2" r="2.0"/>
<circle cx="177.7" cy="49.2" r="2.0"/>
<circle cx="176.4" cy="48.4" r="2.0"/>
<circle cx="175.1" cy="49.6" r="2.0"/>
<circle cx="173.9" cy="49.0" r="2.0"/>
<circle cx="172.6" cy="50.0" r="2.0"/>
<circle cx="171.4" cy="50.3" r="2.0"/>
<circle cx="170.1" cy="49.6" r="2.0"/>
<circle cx="168.9" cy="50.5" r="2.0"/>
<circle cx="167.6" cy="49.4" r="2.0"/>
<circle cx="166.3" cy="49.1" r="2.0"/>
<circle cx="165.1" cy="49.9" r="2.0"/>
<circle cx="163.8" cy="49.0" r="2.0"/>
<circle cx="162.6" cy="49.3" r="2.0"/>
<circle cx="161.3" cy="49.7" r="2.0"/>
<circle cx="160.0" cy="50.0" r="2.0"/>
<circle cx="158.8" cy="49.3" r="2.0"/>
<circle cx="157.5" cy="49.2" r="2.0"/>
<circle cx="156.3" cy="50.5" r="2.0"/>
<circle cx="155.0" cy="49.7" r="2.0"/>
<circle cx="153.8" cy="50.7" r="2.0"/>
</g>
<g fill="#0072BD">
<circle cx="31.7" cy="232.0" r="2.0"/>
<circle cx="33.0" cy="230.0" r="2.0"/>
<circle cx="34.2" cy="211.6" r="2.0"/>
<circle cx="35.5" cy="204.6" r="2.0"/>
<circle cx="36.7" cy="200.1" r="2.0"/>
<circle cx="38.0" cy="202.0" r="2.0"/>
<circle cx="39.3" cy="201.2" r="2.0"/>
<circle cx="40.5" cy="196.5" r="2.0"/>
<circle cx="41.8" cy="200.9" r="2.0"/>
<circle cx="43.0" cy="200.6" r="2.0"/>
<circle cx="44.3" cy="200.8" r="2.0"/>
<circle cx="45.5" cy="202.3" r="2.0"/>
<circle cx="46.8" cy="204.8" r="2.0"/>
<circle cx="48.1" cy="204.0" r="2.0"/>
<circle cx="49.3" cy="203.2" r="2.0"/>
<circle cx="50.6" cy="202.9" r="2.0"/>
<circle cx="51.8" cy="206.5" r="2.0"/>
<circle cx="53.1" cy="207.2" r="2.0"/>
<circle cx="54.4" cy="210.5" r="2.0"/>
<circle cx="55.6" cy="209.6" r="2.0"/>
<circle cx="56.9" cy="207.8" r="2.0"/>
<circle cx="58.1" cy="204.7" r="2.0"/>
<circle cx="59.4" cy="201.4" r="2.0"/>
<circle cx="60.6" cy="198.6" r="2.0"/>
<circle cx="61.9" cy="196.1" r="2.0"/>
<circle cx="63.2" cy="194.0" r="2.0"/>
<circle cx="64.4" cy="189.5" r="2.0"/>
<circle cx="65.7" cy="188.3" r="2.0"/>
<circle cx="66.9" cy="187.0" r="2.0"/>
<circle cx="68.2" cy="186.1" r="2.0"/>
<circle cx="69.5" cy="181.4" r="2.0"/>
<circle cx="70.7" cy="179.0" r="2.0"/>
<circle cx="72.0" cy="178.8" r="2.0"/>
<circle cx="73.2" cy="176.7" r="2.0"/>
<circle cx="74.5" cy="173.4" r="2.0"/>
<circle cx="75.7" cy="167.9" r="2.0"/>
<circle cx="77.0" cy="169.2" r="2.0"/>
<circle cx="78.3" cy="169.3" r="2.0"/>
<circle cx="79.5" cy="168.3" r="2.0"/>
<circle cx="80.8" cy="165.4" r="2.0"/>
<circle cx="82.0" cy="163.2" r="2.0"/>
<circle cx="83.3" cy="161.1" r="2.0"/>
<circle cx="84.6" cy="159.0" r="2.0"/>
<circle cx="85.8" cy="157.0" r="2.0"/>
<circle cx="87.1" cy="155.1" r="2.0"/>
<circle cx="88.3" cy="153.3" r="2.0"/>
<circle cx="89.6" cy="149.2" r="2.0"/>
<circle cx="90.8" cy="147.3" r="2.0"/>
<circle cx="92.1" cy="146.5" r="2.0"/>
<circle cx="93.4" cy="141.0" r="2.0"/>
<circle cx="94.6" cy="142.8" r="2.0"/>
<circle cx="95.9" cy="141.3" r="2.0"/>
<circle cx="97.1" cy="140.3" r="2.0"/>
<circle cx="98.4" cy="141.6" r="2.0"/>
<circle cx="99.7" cy="143.2" r="2.0"/>
<circle cx="100.9" cy="141.1" r="2.0"/>
<circle cx="102.2" cy="138.8" r="2.0"/>
<circle cx="103.4" cy="143.9" r="2.0"/>
<circle cx="104.7" cy="144.2" r="2.0"/>
<circle cx="105.9" cy="146.6" r="2.0"/>
<circle cx="107.2" cy="146.2" r="2.0"/>
<circle cx="108.5" cy="146.6" r="2.0"/>
<circle cx="109.7" cy="147.3" r="2.0"/>
<circle cx="111.0" cy="153.0" r="2.0"/>
<circle cx="112.2" cy="152.0" r="2.0"/>
<circle cx="113.5" cy="152.3" r="2.0"/>
<circle cx="114.8" cy="152.7" r="2.0"/>
<circle cx="116.0" cy="153.2" r="2.0"/>
<circle cx="117.3" cy="154.2" r="2.0"/>
<circle cx="118.5" cy="155.6" r="2.0"/>
<circle cx="119.8" cy="153.6" r="2.0"/>
<circle cx="121.0" cy="158.2" r="2.0"/>
<circle cx="122.3" cy="156.4" r="2.0"/>
<circle cx="123.6" cy="163.2" r="2.0"/>
<circle cx="124.8" cy="158.2" r="2.0"/>
<circle cx="126.1" cy="159.7" r="2.0"/>
<circle cx="127.3" cy="159.1" r="2.0"/>
<circle cx="128.6" cy="158.7" r="2.0"/>
<circle cx="129.9" cy="159.0" r="2.0"/>
<circle cx="131.1" cy="159.0" r="2.0"/>
<circle cx="132.4" cy="161.0" r="2.0"/>
<circle cx="133.6" cy="163.1" r="2.0"/>
<circle cx="134.9" cy="162.2" r="2.0"/>
<circle cx="136.1" cy="160.5" r="2.0"/>
<circle cx="137.4" cy="161.9" r="2.0"/>
<circle cx="138.7" cy="158.6" r="2.0"/>
<circle cx="139.9" cy="157.5" r="2.0"/>
<circle cx="141.2" cy="161.9" r="2.0"/>
<circle cx="142.4" cy="158.6" r="2.0"/>
<circle cx="143.7" cy="159.6" r="2.0"/>
<circle cx="145.0" cy="160.7" r="2.0"/>
<circle cx="146.2" cy="161.6" r="2.0"/>
<circle cx="147.5" cy="163.8" r="2.0"/>
<circle cx="148.7" cy="160.8" r="2.0"/>
<circle cx="150.0" cy="162.1" r="2.0"/>
<circle cx="151.2" cy="156.7" r="2.0"/>
<circle cx="152.5" cy="156.7" r="2.0"/>
<circle cx="38.8" cy="203.2" r="2.0"/>
<circle cx="48.6" cy="203.5" r="2.0"/>
<circle cx="56.2" cy="209.0" r="2.0"/>
<circle cx="57.5" cy="206.7" r="2.0"/>
<circle cx="58.5" cy="203.5" r="2.0"/>
<circle cx="59.8" cy="200.4" r="2.0"/>
<circle cx="61.3" cy="197.2" r="2.0"/>
<circle cx="66.2" cy="187.6" r="2.0"/>
<circle cx="77.6" cy="169.8" r="2.0"/>
<circle cx="82.7" cy="162.0" r="2.0"/>
<circle cx="86.5" cy="155.8" r="2.0"/>
<circle cx="89.2" cy="149.8" r="2.0"/>
<circle cx="102.6" cy="143.6" r="2.0"/>
<circle cx="116.7" cy="153.4" r="2.0"/>
<circle cx="133.0" cy="162.7" r="2.0"/>
<circle cx="134.5" cy="163.6" r="2.0"/>
<circle cx="135.6" cy="159.7" r="2.0"/>
<circle cx="147.9" cy="164.7" r="2.0"/>
<circle cx="150.4" cy="162.7" r="2.0"/>
<circle cx="273.3" cy="232.0" r="2.0"/>
<circle cx="272.0" cy="230.0" r="2.0"/>
<circle cx="270.8" cy="211.6" r="2.0"/>
<circle cx="269.5" cy="204.6" r="2.0"/>
<circle cx="268.3" cy="200.1" r="2.0"/>
<circle cx="267.0" cy="202.0" r="2.0"/>
<circle cx="265.8" cy="201.2" r="2.0"/>
<circle cx="264.5" cy="196.5" r="2.0"/>
<circle cx="263.2" cy="200.9" r="2.0"/>
<circle cx="262.0" cy="200.6" r="2.0"/>
<circle cx="260.7" cy="200.8" r="2.0"/>
<circle cx="259.5" cy="202.3" r="2.0"/>
<circle cx="258.2" cy="204.8" r="2.0"/>
<circle cx="256.9" cy="204.0" r="2.0"/>
<circle cx="255.7" cy="203.2" r="2.0"/>
<circle cx="254.4" cy="202.9" r="2.0"/>
<circle cx="253.2" cy="206.5" r="2.0"/>
<circle cx="251.9" cy="207.2" r="2.0"/>
<circle cx="250.6" cy="210.5" r="2.0"/>
<circle cx="249.4" cy="209.6" r="2.0"/>
<circle cx="248.1" cy="207.8" r="2.0"/>
<circle cx="246.9" cy="204.7" r="2.0"/>
<circle cx="245.6" cy="201.4" r="2.0"/>
<circle cx="244.4" cy="198.6" r="2.0"/>
<circle cx="243.1" cy="196.1" r="2.0"/>
<circle cx="241.8" cy="194.0" r="2.0"/>
<circle cx="240.6" cy="189.5" r="2.0"/>
<circle cx="239.3" cy="188.3" r="2.0"/>
<circle cx="238.1" cy="187.0" r="2.0"/>
<circle cx="236.8" cy="186.1" r="2.0"/>
<circle cx="235.5" cy="181.4" r="2.0"/>
<circle cx="234.3" cy="179.0" r="2.0"/>
<circle cx="233.0" cy="178.8" r="2.0"/>
<circle cx="231.8" cy="176.7" r="2.0"/>
<circle cx="230.5" cy="173.4" r="2.0"/>
<circle cx="229.3" cy="167.9" r="2.0"/>
<circle cx="228.0" cy="169.2" r="2.0"/>
<circle cx="226.7" cy="169.3" r="2.0"/>
<circle cx="225.5" cy="168.3" r="2.0"/>
<circle cx="224.2" cy="165.4" r="2.0"/>
<circle cx="223.0" cy="163.2" r="2.0"/>
<circle cx="221.7" cy="161.1" r="2.0"/>
<circle cx="220.4" cy="159.0" r="2.0"/>
<circle cx="219.2" cy="157.0" r="2.0"/>
<circle cx="217.9" cy="155.1" r="2.0"/>
<circle cx="216.7" cy="153.3" r="2.0"/>
<circle cx="215.4" cy="149.2" r="2.0"/>
<circle cx="214.2" cy="147.3" r="2.0"/>
<circle cx="212.9" cy="146.5" r="2.0"/>
<circle cx="211.6" cy="141.0" r="2.0"/>
<circle cx="210.4" cy="142.8" r="2.0"/>
<circle cx="209.1" cy="141.3" r="2.0"/>
<circle cx="207.9" cy="140.3" r="2.0"/>
<circle cx="206.6" cy="141.6" r="2.0"/>
<circle cx="205.3" cy="143.2" r="2.0"/>
<circle cx="204.1" cy="141.1" r="2.0"/>
<circle cx="202.8" cy="138.8" r="2.0"/>
<circle cx="201.6" cy="143.9" r="2.0"/>
<circle cx="200.3" cy="144.2" r="2.0"/>
<circle cx="199.1" cy="146.6" r="2.0"/>
<circle cx="197.8" cy="146.2" r="2.0"/>
<circle cx="196.5" cy="146.6" r="2.0"/>
<circle cx="195.3" cy="147.3" r="2.0"/>
<circle cx="194.0" cy="153.0" r="2.0"/>
<circle cx="192.8" cy="152.0" r="2.0"/>
<circle cx="191.5" cy="152.3" r="2.0"/>
<circle cx="190.2" cy="152.7" r="2.0"/>
<circle cx="189.0" cy="153.2" r="2.0"/>
<circle cx="187.7" cy="154.2" r="2.0"/>
<circle cx="186.5" cy="155.6" r="2.0"/>
<circle cx="185.2" cy="153.6" r="2.0"/>
<circle cx="184.0" cy="158.2" r="2.0"/>
<circle cx="182.7" cy="156.4" r="2.0"/>
<circle cx="181.4" cy="163.2" r="2.0"/>
<circle cx="180.2" cy="158.2" r="2.0"/>
<circle cx="178.9" cy="159.7" r="2.0"/>
<circle cx="177.7" cy="159.1" r="2.0"/>
<circle cx="176.4" cy="158.7" r="2.0"/>
<circle cx="175.1" cy="159.0" r="2.0"/>
<circle cx="173.9" cy="159.0" r="2.0"/>
<circle cx="172.6" cy="161.0" r="2.0"/>
<circle cx="171.4" cy="163.1" r="2.0"/>
<circle cx="170.1" cy="162.2" r="2.0"/>
<circle cx="168.9" cy="160.5" r="2.0"/>
<circle cx="167.6" cy="161.9" r="2.0"/>
<circle cx="166.3" cy="158.6" r="2.0"/>
<circle cx="165.1" cy="157.5" r="2.0"/>
<circle cx="163.8" cy="161.9" r="2.0"/>
<circle cx="162.6" cy="158.6" r="2.0"/>
<circle cx="161.3" cy="159.6" r="2.0"/>
<circle cx="160.0" cy="160.7" r="2.0"/>
<circle cx="158.8" cy="161.6" r="2.0"/>
<circle cx="157.5" cy="163.8" r="2.0"/>
<circle cx="156.3" cy="160.8" r="2.0"/>
<circle cx="155.0" cy="162.1" r="2.0"/>
<circle cx="153.8" cy="156.7" r="2.0"/>
<circle cx="266.2" cy="203.2" r="2.0"/>
<circle cx="256.4" cy="203.5" r="2.0"/>
<circle cx="248.8" cy="209.0" r="2.0"/>
<circle cx="247.5" cy="206.7" r="2.0"/>
<circle cx="246.5" cy="203.5" r="2.0"/>
<circle cx="245.2" cy="200.4" r="2.0"/>
<circle cx="243.7" cy="197.2" r="2.0"/>
<circle cx="238.8" cy="187.6" r="2.0"/>
<circle cx="227.4" cy="169.8" r="2.0"/>
<circle cx="222.3" cy="162.0" r="2.0"/>
<circle cx="218.5" cy="155.8" r="2.0"/>
<circle cx="215.8" cy="149.8" r="2.0"/>
<circle cx="202.4" cy="143.6" r="2.0"/>
<circle cx="188.3" cy="153.4" r="2.0"/>
<circle cx="172.0" cy="162.7" r="2.0"/>
<circle cx="170.5" cy="163.6" r="2.0"/>
<circle cx="169.4" cy="159.7" r="2.0"/>
<circle cx="157.1" cy="164.7" r="2.0"/>
<circle cx="154.6" cy="162.7" r="2.0"/>
</g>
<g fill="#D95319">
<circle cx="297.6" cy="14.4" r="2.0"/>
<circle cx="298.8" cy="20.4" r="2.0"/>
<circle cx="299.7" cy="29.5" r="2.0"/>
<circle cx="301.0" cy="27.4" r="2.0"/>
<circle cx="303.3" cy="28.6" r="2.0"/>
<circle cx="305.4" cy="32.8" r="2.0"/>
<circle cx="307.4" cy="35.7" r="2.0"/>
<circle cx="308.6" cy="38.3" r="2.0"/>
<circle cx="310.5" cy="30.8" r="2.0"/>
<circle cx="312.8" cy="38.9" r="2.0"/>
<circle cx="314.4" cy="41.5" r="2.0"/>
<circle cx="316.3" cy="43.7" r="2.0"/>
<circle cx="317.5" cy="49.7" r="2.0"/>
<circle cx="318.8" cy="52.9" r="2.0"/>
<circle cx="320.1" cy="56.1" r="2.0"/>
<circle cx="321.4" cy="64.9" r="2.0"/>
<circle cx="322.6" cy="58.0" r="2.0"/>
<circle cx="323.9" cy="63.2" r="2.0"/>
<circle cx="325.2" cy="57.4" r="2.0"/>
<circle cx="326.4" cy="57.9" r="2.0"/>
<circle cx="327.7" cy="53.5" r="2.0"/>
<circle cx="329.0" cy="46.5" r="2.0"/>
<circle cx="330.5" cy="41.8" r="2.0"/>
<circle cx="332.2" cy="45.9" r="2.0"/>
<circle cx="334.1" cy="49.1" r="2.0"/>
<circle cx="335.0" cy="75.1" r="2.0"/>
<circle cx="336.6" cy="97.3" r="2.0"/>
<circle cx="337.9" cy="102.1" r="2.0"/>
<circle cx="338.9" cy="104.3" r="2.0"/>
<circle cx="340.1" cy="103.0" r="2.0"/>
<circle cx="341.5" cy="93.8" r="2.0"/>
<circle cx="342.7" cy="70.3" r="2.0"/>
<circle cx="344.0" cy="52.6" r="2.0"/>
<circle cx="345.3" cy="40.7" r="2.0"/>
<circle cx="346.4" cy="40.8" r="2.0"/>
<circle cx="347.6" cy="41.5" r="2.0"/>
<circle cx="348.8" cy="41.5" r="2.0"/>
<circle cx="350.2" cy="34.8" r="2.0"/>
<circle cx="351.5" cy="40.2" r="2.0"/>
<circle cx="352.7" cy="42.7" r="2.0"/>
<circle cx="354.3" cy="44.6" r="2.0"/>
<circle cx="355.9" cy="50.4" r="2.0"/>
<circle cx="357.8" cy="47.8" r="2.0"/>
<circle cx="359.1" cy="60.7" r="2.0"/>
<circle cx="360.5" cy="63.0" r="2.0"/>
<circle cx="361.7" cy="64.9" r="2.0"/>
<circle cx="362.9" cy="67.0" r="2.0"/>
<circle cx="363.6" cy="64.0" r="2.0"/>
<circle cx="364.8" cy="62.8" r="2.0"/>
<circle cx="365.4" cy="62.1" r="2.0"/>
<circle cx="366.5" cy="52.9" r="2.0"/>
<circle cx="367.7" cy="43.1" r="2.0"/>
<circle cx="369.5" cy="39.2" r="2.0"/>
<circle cx="369.9" cy="41.2" r="2.0"/>
<circle cx="371.6" cy="37.0" r="2.0"/>
<circle cx="373.2" cy="30.0" r="2.0"/>
<circle cx="374.6" cy="28.2" r="2.0"/>
<circle cx="376.3" cy="26.7" r="2.0"/>
<circle cx="377.9" cy="24.8" r="2.0"/>
<circle cx="379.7" cy="23.5" r="2.0"/>
<circle cx="382.0" cy="17.8" r="2.0"/>
<circle cx="383.9" cy="19.7" r="2.0"/>
<circle cx="385.2" cy="22.9" r="2.0"/>
<circle cx="386.4" cy="21.6" r="2.0"/>
<circle cx="387.5" cy="16.5" r="2.0"/>
<circle cx="389.5" cy="13.1" r="2.0"/>
<circle cx="390.2" cy="19.0" r="2.0"/>
<circle cx="391.5" cy="23.8" r="2.0"/>
<circle cx="393.0" cy="20.7" r="2.0"/>
<circle cx="394.5" cy="16.5" r="2.0"/>
<circle cx="395.5" cy="27.4" r="2.0"/>
<circle cx="396.6" cy="20.4" r="2.0"/>
<circle cx="398.5" cy="22.9" r="2.0"/>
<circle cx="400.3" cy="27.4" r="2.0"/>
<circle cx="400.3" cy="21.0" r="2.0"/>
<circle cx="402.7" cy="19.1" r="2.0"/>
<circle cx="404.6" cy="20.7" r="2.0"/>
<circle cx="407.0" cy="19.3" r="2.0"/>
<circle cx="408.2" cy="22.3" r="2.0"/>
<circle cx="410.0" cy="19.7" r="2.0"/>
<circle cx="411.4" cy="21.0" r="2.0"/>
<circle cx="413.3" cy="23.5" r="2.0"/>
<circle cx="414.5" cy="15.9" r="2.0"/>
<circle cx="415.8" cy="19.1" r="2.0"/>
<circle cx="417.1" cy="20.4" r="2.0"/>
<circle cx="418.4" cy="19.7" r="2.0"/>
<circle cx="539.2" cy="14.4" r="2.0"/>
<circle cx="538.0" cy="20.4" r="2.0"/>
<circle cx="537.1" cy="29.5" r="2.0"/>
<circle cx="535.8" cy="27.4" r="2.0"/>
<circle cx="533.5" cy="28.6" r="2.0"/>
<circle cx="531.4" cy="32.8" r="2.0"/>
<circle cx="529.4" cy="35.7" r="2.0"/>
<circle cx="528.2" cy="38.3" r="2.0"/>
<circle cx="526.3" cy="30.8" r="2.0"/>
<circle cx="524.0" cy="38.9" r="2.0"/>
<circle cx="522.4" cy="41.5" r="2.0"/>
<circle cx="520.5" cy="43.7" r="2.0"/>
<circle cx="519.3" cy="49.7" r="2.0"/>
<circle cx="518.0" cy="52.9" r="2.0"/>
<circle cx="516.7" cy="56.1" r="2.0"/>
<circle cx="515.4" cy="64.9" r="2.0"/>
<circle cx="514.2" cy="58.0" r="2.0"/>
<circle cx="512.9" cy="63.2" r="2.0"/>
<circle cx="511.6" cy="57.4" r="2.0"/>
<circle cx="510.4" cy="57.9" r="2.0"/>
<circle cx="509.1" cy="53.5" r="2.0"/>
<circle cx="507.8" cy="46.5" r="2.0"/>
<circle cx="506.3" cy="41.8" r="2.0"/>
<circle cx="504.6" cy="45.9" r="2.0"/>
<circle cx="502.7" cy="49.1" r="2.0"/>
<circle cx="501.8" cy="75.1" r="2.0"/>
<circle cx="500.2" cy="97.3" r="2.0"/>
<circle cx="498.9" cy="102.1" r="2.0"/>
<circle cx="497.9" cy="104.3" r="2.0"/>
<circle cx="496.7" cy="103.0" r="2.0"/>
<circle cx="495.3" cy="93.8" r="2.0"/>
<circle cx="494.1" cy="70.3" r="2.0"/>
<circle cx="492.8" cy="52.6" r="2.0"/>
<circle cx="491.5" cy="40.7" r="2.0"/>
<circle cx="490.4" cy="40.8" r="2.0"/>
<circle cx="489.2" cy="41.5" r="2.0"/>
<circle cx="488.0" cy="41.5" r="2.0"/>
<circle cx="486.6" cy="34.8" r="2.0"/>
<circle cx="485.3" cy="40.2" r="2.0"/>
<circle cx="484.1" cy="42.7" r="2.0"/>
<circle cx="482.5" cy="44.6" r="2.0"/>
<circle cx="480.9" cy="50.4" r="2.0"/>
<circle cx="479.0" cy="47.8" r="2.0"/>
<circle cx="477.7" cy="60.7" r="2.0"/>
<circle cx="476.3" cy="63.0" r="2.0"/>
<circle cx="475.1" cy="64.9" r="2.0"/>
<circle cx="473.9" cy="67.0" r="2.0"/>
<circle cx="473.2" cy="64.0" r="2.0"/>
<circle cx="472.0" cy="62.8" r="2.0"/>
<circle cx="471.4" cy="62.1" r="2.0"/>
<circle cx="470.3" cy="52.9" r="2.0"/>
<circle cx="469.1" cy="43.1" r="2.0"/>
<circle cx="467.3" cy="39.2" r="2.0"/>
<circle cx="466.9" cy="41.2" r="2.0"/>
<circle cx="465.2" cy="37.0" r="2.0"/>
<circle cx="463.6" cy="30.0" r="2.0"/>
<circle cx="462.2" cy="28.2" r="2.0"/>
<circle cx="460.5" cy="26.7" r="2.0"/>
<circle cx="458.9" cy="24.8" r="2.0"/>
<circle cx="457.1" cy="23.5" r="2.0"/>
<circle cx="454.8" cy="17.8" r="2.0"/>
<circle cx="452.9" cy="19.7" r="2.0"/>
<circle cx="451.6" cy="22.9" r="2.0"/>
<circle cx="450.4" cy="21.6" r="2.0"/>
<circle cx="449.3" cy="16.5" r="2.0"/>
<circle cx="447.3" cy="13.1" r="2.0"/>
<circle cx="446.6" cy="19.0" r="2.0"/>
<circle cx="445.3" cy="23.8" r="2.0"/>
<circle cx="443.8" cy="20.7" r="2.0"/>
<circle cx="442.3" cy="16.5" r="2.0"/>
<circle cx="441.3" cy="27.4" r="2.0"/>
<circle cx="440.2" cy="20.4" r="2.0"/>
<circle cx="438.3" cy="22.9" r="2.0"/>
<circle cx="436.5" cy="27.4" r="2.0"/>
<circle cx="436.5" cy="21.0" r="2.0"/>
<circle cx="434.1" cy="19.1" r="2.0"/>
<circle cx="432.2" cy="20.7" r="2.0"/>
<circle cx="429.8" cy="19.3" r="2.0"/>
<circle cx="428.6" cy="22.3" r="2.0"/>
<circle cx="426.8" cy="19.7" r="2.0"/>
<circle cx="425.4" cy="21.0" r="2.0"/>
<circle cx="423.5" cy="23.5" r="2.0"/>
<circle cx="422.3" cy="15.9" r="2.0"/>
<circle cx="421.0" cy="19.1" r="2.0"/>
<circle cx="419.7" cy="20.4" r="2.0"/>
</g>
<g fill="#D95319">
<circle cx="297.6" cy="165.5" r="2.0"/>
<circle cx="298.8" cy="160.5" r="2.0"/>
<circle cx="299.7" cy="152.2" r="2.0"/>
<circle cx="301.0" cy="149.9" r="2.0"/>
<circle cx="302.9" cy="145.8" r="2.0"/>
<circle cx="304.8" cy="147.1" r="2.0"/>
<circle cx="307.0" cy="146.1" r="2.0"/>
<circle cx="306.3" cy="163.2" r="2.0"/>
<circle cx="309.0" cy="153.4" r="2.0"/>
<circle cx="310.5" cy="151.5" r="2.0"/>
<circle cx="312.4" cy="152.8" r="2.0"/>
<circle cx="314.6" cy="150.9" r="2.0"/>
<circle cx="316.3" cy="152.8" r="2.0"/>
<circle cx="316.3" cy="162.5" r="2.0"/>
<circle cx="317.9" cy="154.7" r="2.0"/>
<circle cx="319.3" cy="157.8" r="2.0"/>
<circle cx="321.1" cy="155.7" r="2.0"/>
<circle cx="322.6" cy="159.4" r="2.0"/>
<circle cx="323.9" cy="161.0" r="2.0"/>
<circle cx="325.2" cy="163.2" r="2.0"/>
<circle cx="326.4" cy="152.8" r="2.0"/>
<circle cx="328.3" cy="154.1" r="2.0"/>
<circle cx="330.3" cy="154.7" r="2.0"/>
<circle cx="329.0" cy="160.4" r="2.0"/>
<circle cx="331.8" cy="161.8" r="2.0"/>
<circle cx="333.4" cy="168.0" r="2.0"/>
<circle cx="335.3" cy="169.9" r="2.0"/>
<circle cx="336.2" cy="188.0" r="2.0"/>
<circle cx="337.6" cy="239.5" r="2.0"/>
<circle cx="340.1" cy="226.0" r="2.0"/>
<circle cx="341.3" cy="189.9" r="2.0"/>
<circle cx="342.4" cy="164.1" r="2.0"/>
<circle cx="343.8" cy="166.0" r="2.0"/>
<circle cx="345.6" cy="162.5" r="2.0"/>
<circle cx="347.5" cy="159.4" r="2.0"/>
<circle cx="349.4" cy="160.3" r="2.0"/>
<circle cx="351.5" cy="162.7" r="2.0"/>
<circle cx="352.7" cy="156.8" r="2.0"/>
<circle cx="354.6" cy="157.7" r="2.0"/>
<circle cx="356.5" cy="159.6" r="2.0"/>
<circle cx="358.4" cy="162.1" r="2.0"/>
<circle cx="359.1" cy="165.9" r="2.0"/>
<circle cx="360.6" cy="160.8" r="2.0"/>
<circle cx="362.3" cy="160.2" r="2.0"/>
<circle cx="363.5" cy="156.5" r="2.0"/>
<circle cx="365.4" cy="153.6" r="2.0"/>
<circle cx="367.4" cy="155.4" r="2.0"/>
<circle cx="368.0" cy="167.8" r="2.0"/>
<circle cx="369.3" cy="160.0" r="2.0"/>
<circle cx="370.5" cy="151.7" r="2.0"/>
<circle cx="372.8" cy="151.5" r="2.0"/>
<circle cx="371.8" cy="144.5" r="2.0"/>
<circle cx="374.2" cy="156.8" r="2.0"/>
<circle cx="375.4" cy="141.4" r="2.0"/>
<circle cx="376.9" cy="154.3" r="2.0"/>
<circle cx="377.9" cy="135.4" r="2.0"/>
<circle cx="378.8" cy="150.9" r="2.0"/>
<circle cx="380.5" cy="142.2" r="2.0"/>
<circle cx="380.7" cy="149.0" r="2.0"/>
<circle cx="383.3" cy="147.7" r="2.0"/>
<circle cx="384.5" cy="149.6" r="2.0"/>
<circle cx="385.5" cy="156.6" r="2.0"/>
<circle cx="386.2" cy="146.5" r="2.0"/>
<circle cx="388.7" cy="145.2" r="2.0"/>
<circle cx="390.5" cy="137.2" r="2.0"/>
<circle cx="391.5" cy="150.3" r="2.0"/>
<circle cx="393.4" cy="148.0" r="2.0"/>
<circle cx="395.4" cy="145.2" r="2.0"/>
<circle cx="397.3" cy="145.8" r="2.0"/>
<circle cx="399.2" cy="154.7" r="2.0"/>
<circle cx="400.4" cy="144.8" r="2.0"/>
<circle cx="402.0" cy="143.6" r="2.0"/>
<circle cx="403.4" cy="140.8" r="2.0"/>
<circle cx="404.9" cy="142.6" r="2.0"/>
<circle cx="407.1" cy="144.6" r="2.0"/>
<circle cx="408.7" cy="145.9" r="2.0"/>
<circle cx="409.4" cy="151.0" r="2.0"/>
<circle cx="410.5" cy="148.1" r="2.0"/>
<circle cx="411.4" cy="147.2" r="2.0"/>
<circle cx="412.6" cy="145.8" r="2.0"/>
<circle cx="413.9" cy="147.7" r="2.0"/>
<circle cx="414.3" cy="143.5" r="2.0"/>
<circle cx="415.8" cy="149.3" r="2.0"/>
<circle cx="416.8" cy="157.9" r="2.0"/>
<circle cx="418.4" cy="160.3" r="2.0"/>
<circle cx="539.2" cy="165.5" r="2.0"/>
<circle cx="538.0" cy="160.5" r="2.0"/>
<circle cx="537.1" cy="152.2" r="2.0"/>
<circle cx="535.8" cy="149.9" r="2.0"/>
<circle cx="533.9" cy="145.8" r="2.0"/>
<circle cx="532.0" cy="147.1" r="2.0"/>
<circle cx="529.8" cy="146.1" r="2.0"/>
<circle cx="530.5" cy="163.2" r="2.0"/>
<circle cx="527.8" cy="153.4" r="2.0"/>
<circle cx="526.3" cy="151.5" r="2.0"/>
<circle cx="524.4" cy="152.8" r="2.0"/>
<circle cx="522.2" cy="150.9" r="2.0"/>
<circle cx="520.5" cy="152.8" r="2.0"/>
<circle cx="520.5" cy="162.5" r="2.0"/>
<circle cx="518.9" cy="154.7" r="2.0"/>
<circle cx="517.5" cy="157.8" r="2.0"/>
<circle cx="515.7" cy="155.7" r="2.0"/>
<circle cx="514.2" cy="159.4" r="2.0"/>
<circle cx="512.9" cy="161.0" r="2.0"/>
<circle cx="511.6" cy="163.2" r="2.0"/>
<circle cx="510.4" cy="152.8" r="2.0"/>
<circle cx="508.5" cy="154.1" r="2.0"/>
<circle cx="506.5" cy="154.7" r="2.0"/>
<circle cx="507.8" cy="160.4" r="2.0"/>
<circle cx="505.0" cy="161.8" r="2.0"/>
<circle cx="503.4" cy="168.0" r="2.0"/>
<circle cx="501.5" cy="169.9" r="2.0"/>
<circle cx="500.6" cy="188.0" r="2.0"/>
<circle cx="499.2" cy="239.5" r="2.0"/>
<circle cx="496.7" cy="226.0" r="2.0"/>
<circle cx="495.5" cy="189.9" r="2.0"/>
<circle cx="494.4" cy="164.1" r="2.0"/>
<circle cx="493.0" cy="166.0" r="2.0"/>
<circle cx="491.2" cy="162.5" r="2.0"/>
<circle cx="489.3" cy="159.4" r="2.0"/>
<circle cx="487.4" cy="160.3" r="2.0"/>
<circle cx="485.3" cy="162.7" r="2.0"/>
<circle cx="484.1" cy="156.8" r="2.0"/>
<circle cx="482.2" cy="157.7" r="2.0"/>
<circle cx="480.3" cy="159.6" r="2.0"/>
<circle cx="478.4" cy="162.1" r="2.0"/>
<circle cx="477.7" cy="165.9" r="2.0"/>
<circle cx="476.2" cy="160.8" r="2.0"/>
<circle cx="474.5" cy="160.2" r="2.0"/>
<circle cx="473.3" cy="156.5" r="2.0"/>
<circle cx="471.4" cy="153.6" r="2.0"/>
<circle cx="469.4" cy="155.4" r="2.0"/>
<circle cx="468.8" cy="167.8" r="2.0"/>
<circle cx="467.5" cy="160.0" r="2.0"/>
<circle cx="466.3" cy="151.7" r="2.0"/>
<circle cx="464.0" cy="151.5" r="2.0"/>
<circle cx="465.0" cy="144.5" r="2.0"/>
<circle cx="462.6" cy="156.8" r="2.0"/>
<circle cx="461.4" cy="141.4" r="2.0"/>
<circle cx="459.9" cy="154.3" r="2.0"/>
<circle cx="458.9" cy="135.4" r="2.0"/>
<circle cx="458.0" cy="150.9" r="2.0"/>
<circle cx="456.3" cy="142.2" r="2.0"/>
<circle cx="456.1" cy="149.0" r="2.0"/>
<circle cx="453.5" cy="147.7" r="2.0"/>
<circle cx="452.3" cy="149.6" r="2.0"/>
<circle cx="451.3" cy="156.6" r="2.0"/>
<circle cx="450.6" cy="146.5" r="2.0"/>
<circle cx="448.1" cy="145.2" r="2.0"/>
<circle cx="446.3" cy="137.2" r="2.0"/>
<circle cx="445.3" cy="150.3" r="2.0"/>
<circle cx="443.4" cy="148.0" r="2.0"/>
<circle cx="441.4" cy="145.2" r="2.0"/>
<circle cx="439.5" cy="145.8" r="2.0"/>
<circle cx="437.6" cy="154.7" r="2.0"/>
<circle cx="436.4" cy="144.8" r="2.0"/>
<circle cx="434.8" cy="143.6" r="2.0"/>
<circle cx="433.4" cy="140.8" r="2.0"/>
<circle cx="431.9" cy="142.6" r="2.0"/>
<circle cx="429.7" cy="144.6" r="2.0"/>
<circle cx="428.1" cy="145.9" r="2.0"/>
<circle cx="427.4" cy="151.0" r="2.0"/>
<circle cx="426.3" cy="148.1" r="2.0"/>
<circle cx="425.4" cy="147.2" r="2.0"/>
<circle cx="424.2" cy="145.8" r="2.0"/>
<circle cx="422.9" cy="147.7" r="2.0"/>
<circle cx="422.5" cy="143.5" r="2.0"/>
<circle cx="421.0" cy="149.3" r="2.0"/>
<circle cx="420.0" cy="157.9" r="2.0"/>
</g>
<g font-family="'Liberation Serif', serif" font-weight="bold" font-size="9.0" fill="#222">
<text x="285" y="264" text-anchor="middle" textLength="168" lengthAdjust="spacingAndGlyphs">x-position of the middle of the nail [mm]</text>
<text transform="translate(11.4 123.7) rotate(-90)" text-anchor="middle" textLength="107.5" lengthAdjust="spacingAndGlyphs">Induced voltage [mV rms]</text>
</g>
</svg>
</body></html>
